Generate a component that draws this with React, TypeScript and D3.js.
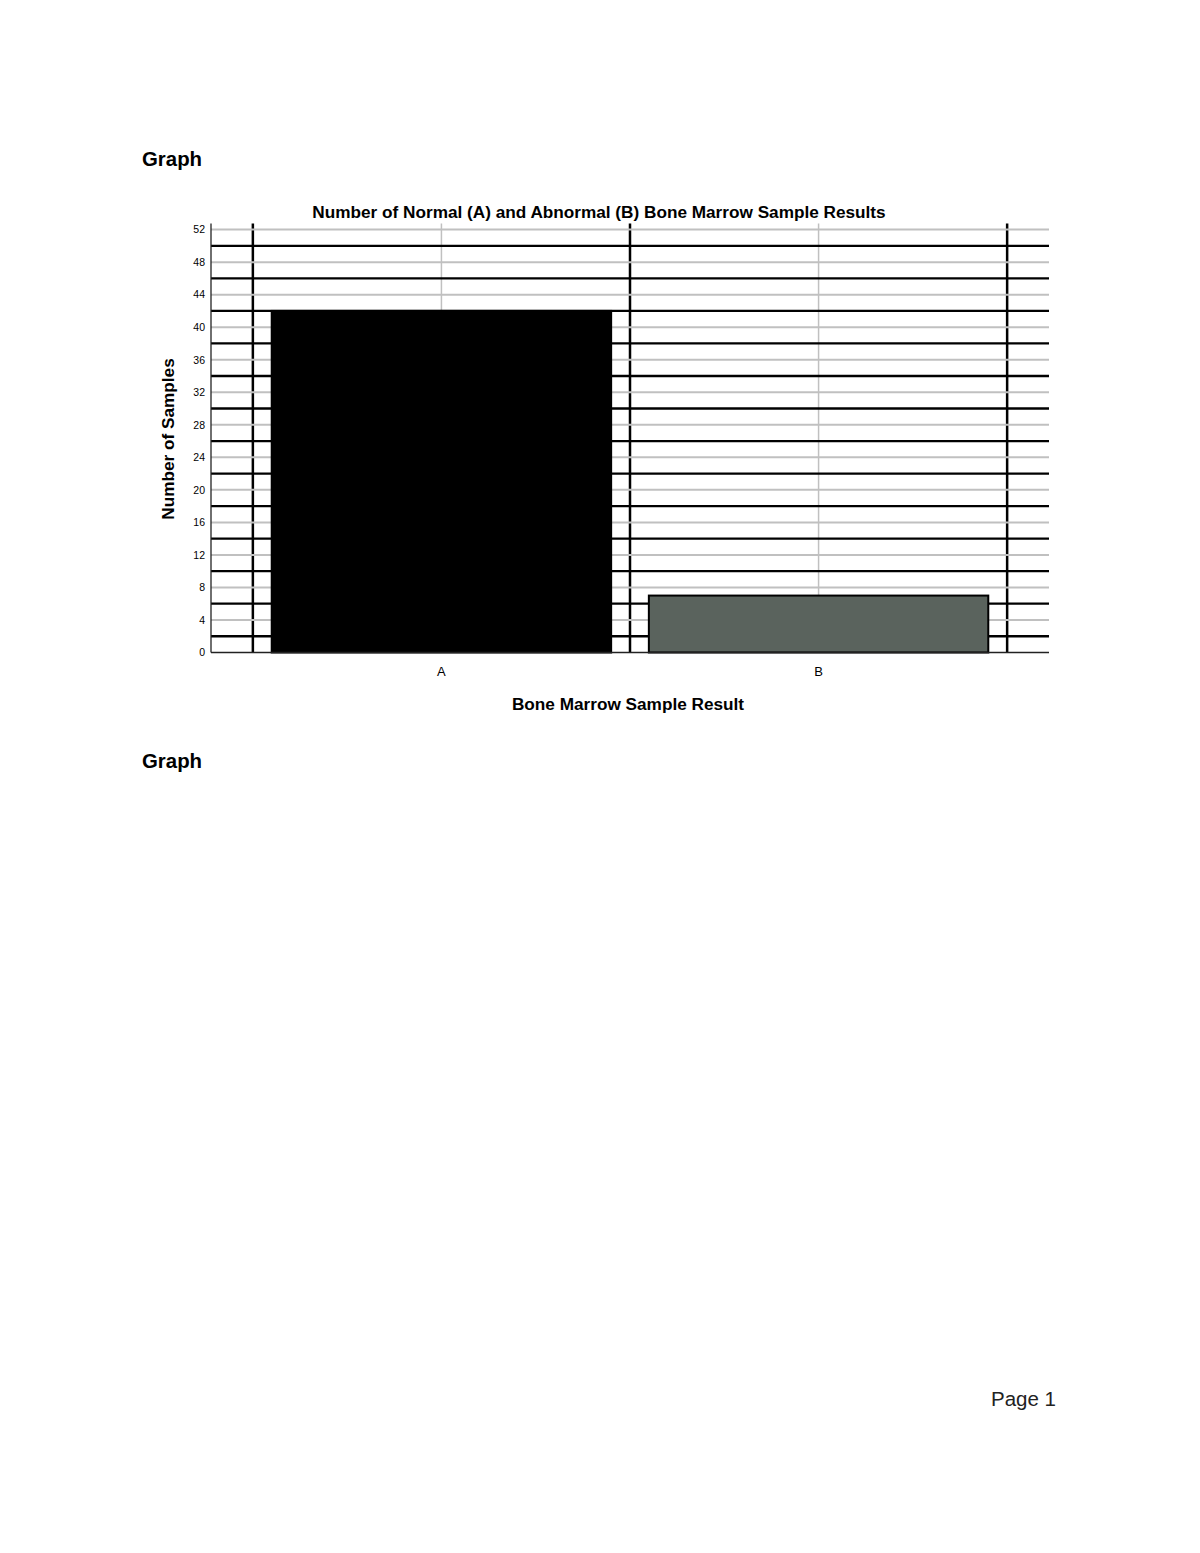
import React from 'react';
import * as d3 from 'd3';

const categories = ['A', 'B'];
const sampleCounts = [42, 7];
const barColors = ['#000000', '#5a635d'];
const majorTicks = [0, 4, 8, 12, 16, 20, 24, 28, 32, 36, 40, 44, 48, 52];
const minorLines = [2, 6, 10, 14, 18, 22, 26, 30, 34, 38, 42, 46, 50];

const App: React.FC = () => {
  const W = 1200;
  const H = 1553;
  const left = 211;
  const right = 1049;
  const top = 223.5;
  const bottom = 652.5;

  const x = d3.scaleBand<string>()
    .domain(categories)
    .range([left, right])
    .paddingInner(0)
    .paddingOuter(0.111);

  const y = d3.scaleLinear()
    .domain([0, 52.75])
    .range([bottom, top]);

  const barW = x.bandwidth() * 0.9;
  const bandEdges = [...categories.map(c => x(c) || 0), (x(categories[categories.length - 1]) || 0) + x.bandwidth()];
  const font = 'Arial, "Liberation Sans", sans-serif';

  return (
    <svg width={W} height={H} style={{ position: 'absolute', left: 0, top: 0, background: '#fff' }}>
      <text x={142} y={166} fontFamily={font} fontWeight="bold" fontSize={20.4} fill="#000">Graph</text>

      <text x={599} y={218} textAnchor="middle" fontFamily={font} fontWeight="bold" fontSize={17.2} fill="#000">
        Number of Normal (A) and Abnormal (B) Bone Marrow Sample Results
      </text>

      {/* gray verticals at category centers */}
      {categories.map(c => (
        <line key={'gv' + c} x1={(x(c) || 0) + x.bandwidth() / 2} x2={(x(c) || 0) + x.bandwidth() / 2}
          y1={top} y2={bottom} stroke="#c0c0c0" strokeWidth={1.5} />
      ))}
      {/* black verticals at band edges */}
      {bandEdges.map((e, i) => (
        <line key={'bv' + i} x1={e} x2={e} y1={top} y2={bottom} stroke="#000" strokeWidth={2.5} />
      ))}
      {/* gray horizontal grid */}
      {majorTicks.filter(t => t > 0).map(t => (
        <line key={'gh' + t} x1={left} x2={right} y1={y(t)} y2={y(t)} stroke="#c0c0c0" strokeWidth={2} />
      ))}
      {/* black horizontal lines */}
      {minorLines.map(t => (
        <line key={'bh' + t} x1={left} x2={right} y1={y(t)} y2={y(t)} stroke="#000" strokeWidth={2.3} />
      ))}

      {/* bars */}
      {categories.map((c, i) => (
        <rect key={'bar' + c}
          x={(x(c) || 0) + (x.bandwidth() - barW) / 2}
          y={y(sampleCounts[i])}
          width={barW}
          height={bottom - y(sampleCounts[i])}
          fill={barColors[i]}
          stroke="#000" strokeWidth={2} />
      ))}

      {/* axes */}
      <line x1={left} x2={left} y1={top} y2={bottom} stroke="#222" strokeWidth={1.3} />
      <line x1={left} x2={right} y1={bottom} y2={bottom} stroke="#222" strokeWidth={1.3} />

      {majorTicks.map(t => (
        <text key={'yt' + t} x={205} y={y(t) + 3.8} textAnchor="end" fontFamily={font} fontSize={10.5} fill="#000">{t}</text>
      ))}
      {categories.map(c => (
        <text key={'xt' + c} x={(x(c) || 0) + x.bandwidth() / 2} y={676} textAnchor="middle" fontFamily={font} fontSize={13} fill="#000">{c}</text>
      ))}

      <text x={628} y={710} textAnchor="middle" fontFamily={font} fontWeight="bold" fontSize={17.2} fill="#000">
        Bone Marrow Sample Result
      </text>
      <text transform="translate(174,439) rotate(-90)" textAnchor="middle" fontFamily={font} fontWeight="bold" fontSize={17.2} fill="#000">
        Number of Samples
      </text>

      <text x={142} y={768} fontFamily={font} fontWeight="bold" fontSize={20.4} fill="#000">Graph</text>

      <text x={1056} y={1406} textAnchor="end" fontFamily={font} fontSize={20.5} fill="#222">Page 1</text>
    </svg>
  );
};

export default App;
